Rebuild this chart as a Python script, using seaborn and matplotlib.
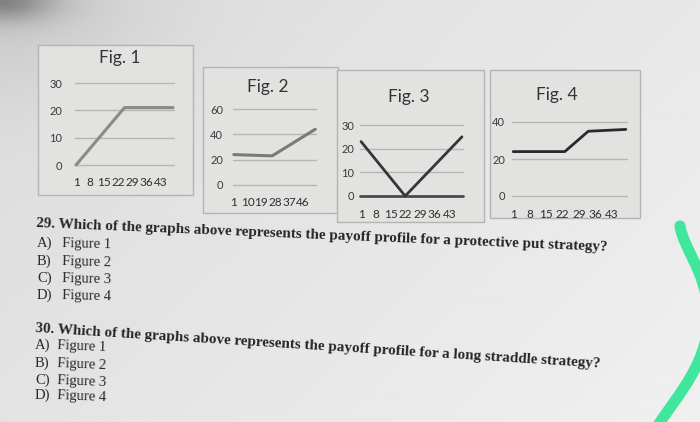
import numpy as np
import pandas as pd
import matplotlib
matplotlib.use("Agg")
import matplotlib.pyplot as plt
import seaborn as sns
from matplotlib.patches import Rectangle, PathPatch
from matplotlib.path import Path

# kink points of each payoff line: category number and value
fig1_x = [1, 25, 49]
fig1_y = [0, 21, 21]
fig2_x = [1, 26, 54]
fig2_y = [24, 23, 44]
fig3_x = [1, 22, 49]
fig3_y = [23, 0, 25]
fig4_x = [1, 23, 33, 49]
fig4_y = [24, 24, 35, 36]

n_cats = [49, 54, 49, 49]
xticks_7 = [1, 8, 15, 22, 29, 36, 43]
xticks_9 = [1, 10, 19, 28, 37, 46]
yticks_1 = [0, 10, 20, 30]
yticks_2 = [0, 20, 40, 60]
yticks_3 = [0, 10, 20, 30]
yticks_4 = [0, 20, 40]
titles = ["Fig. 1", "Fig. 2", "Fig. 3", "Fig. 4"]

q29 = "29. Which of the graphs above represents the payoff profile for a protective put strategy?"
q30 = "30. Which of the graphs above represents the payoff profile for a long straddle strategy?"
letters = ["A)", "B)", "C)", "D)"]
answers = ["Figure 1", "Figure 2", "Figure 3", "Figure 4"]

sns.set_theme(style="white")
plt.rcParams["font.family"] = ["Lato", "DejaVu Sans"]

W, H = 700, 422
fig = plt.figure(figsize=(7, 4.22), dpi=100)


def rect(x0, y0, x1, y1):
    # pixel box (top-left origin) -> figure fraction
    return [x0 / W, 1 - y1 / H, (x1 - x0) / W, (y1 - y0) / H]


# photographed paper background
bg = fig.add_axes([0, 0, 1, 1], zorder=-5)
gx, gy = np.meshgrid(np.linspace(0, 1, 280), np.linspace(0, 1, 170))
shade = 0.86 + 0.05 * gx + 0.03 * gy
shade -= 0.28 * np.exp(-(gx ** 2 + (gy * 1.6) ** 2) / 0.006)
shade -= 0.07 * np.exp(-(gx ** 2 + gy ** 2) / 0.05)
bg.imshow(shade, cmap="gray", vmin=0, vmax=1, aspect="auto", extent=[0, 1, 0, 1])
bg.set_axis_off()

# panel frames
frames = [(38, 45, 193, 195), (203, 67, 338, 213), (337, 70, 484, 222), (490, 70, 640, 218)]
for x0, y0, x1, y1 in frames:
    fig.patches.append(Rectangle((x0 / W, 1 - y1 / H), (x1 - x0) / W, (y1 - y0) / H,
                                 transform=fig.transFigure, facecolor="#e2e2e0",
                                 edgecolor="#b4b4b2", lw=1.0, zorder=-1))

plot_boxes = [(75, 83, 174, 165), (233, 109, 316, 185), (360, 125, 463, 196), (512, 122, 627, 196)]
title_pos = [(120, 58), (268, 87), (409, 97), (557, 95)]
series = [(fig1_x, fig1_y), (fig2_x, fig2_y), (fig3_x, fig3_y), (fig4_x, fig4_y)]
xt = [xticks_7, xticks_9, xticks_7, xticks_7]
yt = [yticks_1, yticks_2, yticks_3, yticks_4]
line_cols = ["#8a8a88", "#7a7a78", "#363636", "#2a2a2a"]
line_w = [2.2, 2.2, 2.0, 2.0]
ypads = [9, 7, 4, 5]

for i in range(4):
    ax = fig.add_axes(rect(*plot_boxes[i]))
    ax.set_facecolor("none")
    for t in yt[i]:
        ax.axhline(t, color="#b6b6b4", lw=1.0, zorder=1, clip_on=False)
    if i == 2:
        ax.axhline(0, color="#4a4a4a", lw=2.0, zorder=2, clip_on=False)
    df = pd.DataFrame({"x": series[i][0], "y": series[i][1]})
    sns.lineplot(data=df, x="x", y="y", ax=ax, color=line_cols[i],
                 linewidth=line_w[i], zorder=3, clip_on=False)
    ax.set_xlim(0.5, n_cats[i] + 0.5)
    ax.set_ylim(yt[i][0], yt[i][-1])
    ax.set_xticks(xt[i])
    ax.set_yticks(yt[i])
    ax.tick_params(axis="y", length=0, labelsize=8, colors="#3a3a3a", pad=ypads[i])
    ax.tick_params(axis="x", length=0, labelsize=8.5, colors="#2e2e2e", pad=9)
    ax.set_xlabel("")
    ax.set_ylabel("")
    for s in ax.spines.values():
        s.set_visible(False)
    fig.text(title_pos[i][0] / W, 1 - title_pos[i][1] / H, titles[i],
             ha="center", va="center", fontsize=12.5, color="#333333")

serif = ["Liberation Serif", "DejaVu Serif"]
# question 29
fig.text(36 / W, 1 - 224 / H, q29, family=serif, fontsize=10.9, fontweight="bold",
         color="#262626", ha="left", va="center", rotation=-2.4, rotation_mode="anchor")
for k, y in enumerate([243, 261, 278, 295]):
    fig.text(37 / W, 1 - y / H, letters[k], family=serif, fontsize=10.5,
             color="#2a2a2a", ha="left", va="center")
    fig.text(62 / W, 1 - (y + 1) / H, answers[k], family=serif, fontsize=10.5,
             color="#2a2a2a", ha="left", va="center", rotation=-1.5, rotation_mode="anchor")

# question 30
fig.text(35 / W, 1 - 329 / H, q30, family=serif, fontsize=10.9, fontweight="bold",
         color="#262626", ha="left", va="center", rotation=-3.6, rotation_mode="anchor")
for k, y in enumerate([345, 363, 380, 395]):
    fig.text(35 / W, 1 - y / H, letters[k], family=serif, fontsize=10.5,
             color="#2a2a2a", ha="left", va="center")
    fig.text(57 / W, 1 - (y + 1) / H, answers[k], family=serif, fontsize=10.5,
             color="#2a2a2a", ha="left", va="center", rotation=-2.5, rotation_mode="anchor")

# green highlighter stroke on the right edge
pts = [(680, 226), (684, 250), (705, 270), (708, 310),
       (711, 360), (680, 392), (656, 428)]
codes = [Path.MOVETO] + [Path.CURVE4] * 6
verts = [(x / W, 1 - y / H) for x, y in pts]
fig.patches.append(PathPatch(Path(verts, codes), transform=fig.transFigure,
                             facecolor="none", edgecolor="#3fe69b", lw=8,
                             capstyle="round", zorder=5))

fig.savefig("out.png", dpi=100)
